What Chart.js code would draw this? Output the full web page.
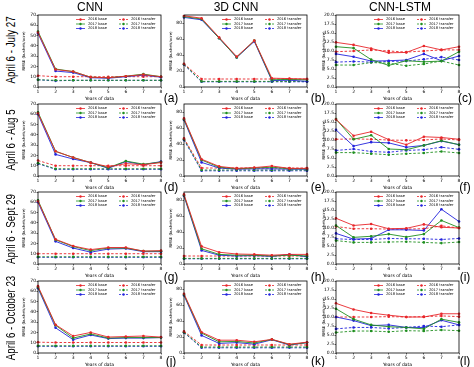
<!DOCTYPE html>
<html><head><meta charset="utf-8">
<script src="https://cdn.jsdelivr.net/npm/chart.js@4/dist/chart.umd.min.js"></script>
<style>
html,body{margin:0;padding:0;background:#fff;}
#wrap{position:relative;width:474px;height:367px;overflow:hidden;background:#fff;}
canvas{position:absolute;}
.t{position:absolute;font-family:"Liberation Sans",Arial,sans-serif;color:#000;white-space:nowrap;}
.rot{transform:translate(-50%,-50%) rotate(-90deg) scaleX(0.78);}
.ctr{transform:translate(-50%,-50%);}
</style></head>
<body><div id="wrap"></div>
<script>
const years = [1,2,3,4,5,6,7,8];
const seriesNames = ['2016 base','2017 base','2018 base','2016 transfer','2017 transfer','2018 transfer'];
const colTitles = ['CNN','3D CNN','CNN-LSTM'];
const rowLabels = ['April 6 - July 27','April 6 - Aug 5','April 6 - Sept 29','April 6 - October 23'];
const panelLetters = ['(a)','(b)','(c)','(d)','(e)','(f)','(g)','(h)','(i)','(j)','(k)','(l)'];
const yMaxByCol = [70, 90, 20];
const yStepByCol = [10, 10, 2.5];

// each panel: 2016 base, 2017 base, 2018 base, 2016 transfer, 2017 transfer, 2018 transfer
const panelA = [
  [53,17,15,9.5,9,10.5,12,10],
  [54,17.5,15,9.5,9,10.5,12.5,10],
  [52,15.5,14,9,8.5,10,11.5,9.5],
  [11,10,10,10,10,10,10,10],
  [7,6.5,6.5,6.5,6.5,6.5,6.5,6.5],
  [7,6,6.5,6.5,6.5,6.5,6.5,6.5]];
const panelB = [
  [89,86,62,38,58,11,10.5,10],
  [88,85,61,37,58,9,9.5,9],
  [87,84,61,37,57,8,8.5,7],
  [29,10,10,10,10,10,10,10],
  [28.5,7,7,7,7,7,7,7],
  [28,6.5,6.5,6.5,6.5,6.5,6.5,6.5]];
const panelC = [
  [12.4,11.7,10.7,9.5,9.6,11.4,10.3,11.2],
  [11.2,10.8,7.6,6.0,7.3,7.0,7.2,9.8],
  [9.2,8.4,7.2,7.3,7.5,9.2,7.3,8.6],
  [9.8,10,10.3,10,9.7,10,10.3,10.3],
  [6.1,6.1,6.8,6.6,5.9,6.4,7.2,6.1],
  [6.9,7.1,6.9,7.1,7.2,7.7,8.3,7.5]];
const panelD = [
  [61,24,18,13,9,12,11,13],
  [62,24,18,13,8,14.5,11.5,13.5],
  [60,21,16.5,13,7.5,14,11,14],
  [15,10,10,10,10,10,10,10],
  [12.5,7,7,7,7,7,7,7],
  [12,6.5,6.5,6.5,6.5,6.5,6.5,6.5]];
const panelE = [
  [72,21,12,9.5,10.5,12.5,9.5,9.5],
  [71,20,11,9,10,11,9,9],
  [70,17,10,8.5,9,9,8.5,8.5],
  [47,10,10,10,10,10,10,10],
  [46,7.5,7.5,7.5,7.5,7.5,7.5,7.5],
  [45,6.5,6.5,6.5,6.5,6.5,6.5,6.5]];
const panelF = [
  [15.7,11.2,12.3,10.1,8.7,10.9,10.7,10.2],
  [15.8,10.2,11.3,7.5,7.3,8.5,9.8,8.7],
  [12.8,8.3,9.4,9.2,8.0,8.5,9.7,8.7],
  [10.2,10.3,10.2,10,9.9,10,10.3,10],
  [6.5,6.5,6.2,5.9,6.2,6.4,6.8,6.4],
  [7.1,7.5,6.8,6.6,7.1,7.3,8.0,7.4]];
const panelG = [
  [61,24,17.5,14,16,16,12.5,13],
  [62,23.5,17,13,15.5,15.5,12.5,12.5],
  [60,22,15.5,11.5,14.5,15,12,12],
  [10,10,10,10,10,10,10,10],
  [7,7,7,7,7,7,7,7],
  [6.5,6.5,6.5,6.5,6.5,6.5,6.5,6.5]];
const panelH = [
  [87,22,14.7,12.5,12,11,12,12],
  [86,19,12,11,11,10,11,10],
  [85,17,11,10,10.5,9.5,12,9],
  [10,10,10,10,10,10,10,10],
  [7,7,7,7,7,7,7,7],
  [6.5,6.5,6.5,6.5,6.5,6.5,6.5,6.5]];
const panelI = [
  [12.7,10.7,11.1,9.8,9.9,11.0,10.2,10.0],
  [10.7,7.4,7.7,8.3,7.5,8.3,12.1,10.1],
  [8.5,6.9,7.1,9.5,9.5,9.3,15.2,11.8],
  [10.4,9.8,9.8,9.7,9.7,9.8,10.6,10.0],
  [6.5,6.0,6.0,6.1,6.2,6.0,5.8,6.1],
  [7.0,6.8,6.8,7.1,7.0,7.0,6.8,7.1]];
const panelJ = [
  [65,27.5,16.5,20,15.5,16,16.5,15.5],
  [64,27,14.5,18.5,14.5,15,15,15],
  [63,24.5,13,17.5,14,14.5,14.5,15],
  [10.5,10.2,10.2,10.2,10.2,10.2,10.2,10.2],
  [7,7,7,7,7,7,7,7],
  [6.5,6.5,6.5,6.5,6.5,6.5,6.5,6.5]];
const panelK = [
  [74,26,16,16,14,17,11,13.5],
  [73,25,14,14.5,12.5,17,10.5,13],
  [72,22,12,13,11,16.5,10,13],
  [27,10,10,10,10,10,10,10],
  [26,7.5,7.5,7.5,7.5,7.5,7.5,7.5],
  [25.5,6.5,6.5,6.5,6.5,6.5,6.5,6.5]];
const panelL = [
  [13.8,12.1,11.1,10.5,10.0,10.0,10.9,10.9],
  [12.3,9.4,7.8,7.3,7.1,6.7,9.4,8.5],
  [10.0,9.0,7.6,7.8,7.1,7.1,9.1,7.8],
  [10,10,10,10.1,10,10.1,10.3,10.1],
  [5.7,6.1,6.1,5.9,6.2,6.1,6.4,6.2],
  [6.7,7.1,7.1,6.8,7.1,7.5,7.3,7.8]];
const panels = [panelA,panelB,panelC,panelD,panelE,panelF,panelG,panelH,panelI,panelJ,panelK,panelL];

// layout
const colors = ['#e8262a','#1f8f1f','#2222dd'];
const plotLeft = [38,184,336];
const plotW = 124;
const plotTop = [14,103,191,280];
const plotH = 73;
const yAxisW = [16,15,14];
const xAxisH = 15;
const PADT = 3, PADR = 3;
const tickFont = {family:'"DejaVu Sans", sans-serif', size:4.5};

const wrap = document.getElementById('wrap');

const framePlugin = {
  id:'frameLegend',
  afterDatasetsDraw(chart){
    const ctx = chart.ctx, a = chart.chartArea;
    ctx.save();
    const lx = a.left + 37, ly = a.top + 2;
    ctx.fillStyle = 'rgba(255,255,255,0.85)';
    ctx.fillRect(lx, ly, 86, 14);
    ctx.font = '3.6px "DejaVu Sans", sans-serif';
    ctx.textBaseline = 'middle';
    for (let i=0;i<6;i++){
      const c = i<3 ? 0 : 1, r = i%3;
      const x0 = lx + 1 + c*43, y0 = ly + 2.5 + r*4.5;
      ctx.strokeStyle = colors[r];
      ctx.lineWidth = 0.8;
      ctx.setLineDash(i<3 ? [] : [2,1.5]);
      ctx.beginPath(); ctx.moveTo(x0,y0); ctx.lineTo(x0+9,y0); ctx.stroke();
      ctx.setLineDash([]);
      ctx.fillStyle = colors[r];
      ctx.beginPath(); ctx.arc(x0+4.5,y0,1.2,0,Math.PI*2); ctx.fill();
      ctx.fillStyle = '#000';
      ctx.fillText(seriesNames[i], x0+12, y0);
    }
    ctx.strokeStyle = '#000';
    ctx.lineWidth = 0.8;
    ctx.strokeRect(a.left, a.top, a.right-a.left, a.bottom-a.top);
    ctx.restore();
  }
};

function addText(txt, x, y, size, cls){
  const d = document.createElement('div');
  d.className = 't ' + cls;
  d.style.left = x+'px'; d.style.top = y+'px';
  d.style.fontSize = size+'px';
  d.textContent = txt;
  wrap.appendChild(d);
}

for (let r=0;r<4;r++){
  for (let c=0;c<3;c++){
    const idx = r*3+c;
    const data = panels[idx];
    const cv = document.createElement('canvas');
    const W = yAxisW[c] + plotW + PADR;
    const H = PADT + plotH + xAxisH;
    cv.width = W; cv.height = H;
    cv.style.left = (plotLeft[c]-yAxisW[c])+'px';
    cv.style.top = (plotTop[r]-PADT)+'px';
    cv.style.width = W+'px'; cv.style.height = H+'px';
    wrap.appendChild(cv);
    const datasets = data.map((vals,i)=>({
      label: seriesNames[i],
      data: vals,
      borderColor: colors[i%3],
      backgroundColor: colors[i%3],
      pointBackgroundColor: colors[i%3],
      pointBorderWidth: 0,
      pointRadius: 1.3,
      borderWidth: 0.9,
      borderDash: i<3 ? [] : [2.5,1.8],
      tension: 0,
      fill: false
    }));
    new Chart(cv, {
      type:'line',
      data:{labels: years, datasets},
      options:{
        responsive:false, animation:false, devicePixelRatio:1,
        layout:{padding:{top:PADT,right:PADR,left:0,bottom:0}},
        plugins:{legend:{display:false}, tooltip:{enabled:false}},
        scales:{
          x:{
            offset:false,
            grid:{display:true, drawOnChartArea:false, drawTicks:true, tickLength:1.5, color:'#000', lineWidth:0.6},
            border:{display:false},
            ticks:{font:tickFont, color:'#000', padding:0.5, maxRotation:0, autoSkip:false},
            title:{display:true, text:'Years of data', font:tickFont, color:'#000', padding:{top:0,bottom:0}},
            afterFit(s){ s.height = xAxisH; }
          },
          y:{
            min:0, max:yMaxByCol[c],
            grid:{display:true, drawOnChartArea:false, drawTicks:true, tickLength:1.5, color:'#000', lineWidth:0.6},
            border:{display:false},
            ticks:{font:tickFont, color:'#000', padding:0.5, stepSize:yStepByCol[c],
              callback:(v)=> c===2 ? Number(v).toFixed(1) : v},
            title:{display:true, text:'RMSE (bushels/acre)', font:{family:'"DejaVu Sans", sans-serif', size:3.8}, color:'#000', padding:{top:0,bottom:0}},
            afterFit(s){ s.width = yAxisW[c]; }
          }
        }
      },
      plugins:[framePlugin]
    });
    const lxs = [171, 318, 465];
    const lys = [98, 187, 277, 361];
    addText(panelLetters[idx], lxs[c], lys[r], 12, 'ctr');
  }
}
const ctx_ = [90, 236, 400];
for (let c=0;c<3;c++) addText(colTitles[c], ctx_[c], 7, 12, 'ctr');
const rys = [50, 140, 229, 318];
for (let r=0;r<4;r++) addText(rowLabels[r], 11, rys[r], 12.5, 'rot');
</script>
</body></html>
